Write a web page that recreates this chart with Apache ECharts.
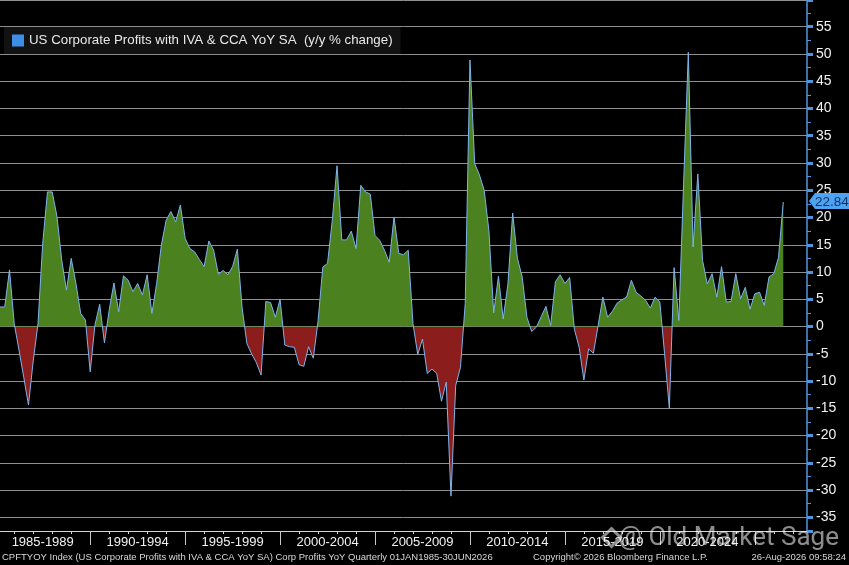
<!DOCTYPE html>
<html>
<head>
<meta charset="utf-8">
<script src="https://cdn.jsdelivr.net/npm/echarts@6/dist/echarts.min.js"></script>
<style>
html, body { margin: 0; padding: 0; background: #000; }
#main { width: 849px; height: 565px; }
</style>
</head>
<body>
<div id="main"></div>
<script>
var seriesName = 'US Corporate Profits with IVA & CCA YoY SA  (y/y % change)';
var startYear = 1985;
var axisQuarters = 171; // axis runs a few quarters past the last print

// CPFTYOY, quarterly, 1985Q1 .. 2026Q2
var profitsYoY = [
  3.6, 3.6, 10.4, 0.5, -4.3, -9.3, -14.4, -6.3, 0.5, 15.3,
  24.7, 24.7, 20.2, 12.2, 6.7, 12.5, 7.9, 2.4, 1.2, -8.3,
  0.3, 4.1, -3.0, 3.0, 8.0, 2.7, 9.3, 8.5, 6.4, 7.9,
  5.8, 9.5, 2.4, 7.9, 15.0, 19.5, 21.1, 19.2, 22.3, 16.2,
  14.3, 13.7, 12.3, 11.0, 15.7, 14.0, 9.6, 10.3, 9.5, 11.0,
  14.2, 3.5, -3.1, -5.0, -6.6, -8.9, 4.6, 4.4, 1.7, 5.0,
  -3.4, -3.7, -3.8, -7.0, -7.3, -3.7, -5.8, 1.0, 10.9, 11.6,
  19.5, 29.5, 15.9, 15.9, 17.5, 14.3, 25.9, 24.7, 24.3, 16.7,
  15.8, 14.0, 11.8, 20.1, 13.4, 13.2, 14.0, 0.5, -5.1, -2.3,
  -8.6, -7.8, -8.6, -13.7, -10.2, -31.1, -10.8, -7.5, 4.2, 48.9,
  29.9, 27.8, 25.0, 17.5, 2.5, 9.2, 1.4, 7.8, 20.8, 12.5,
  9.1, 1.7, -0.9, -0.1, 1.8, 3.7, 0.2, 8.2, 9.5, 7.9,
  9.0, -0.5, -3.8, -9.8, -4.1, -4.9, 0.2, 5.4, 1.7, 2.8,
  4.3, 4.9, 5.4, 8.5, 6.3, 5.6, 4.8, 3.4, 5.4, 4.5,
  -5.0, -15.0, 10.8, 1.1, 26.0, 50.3, 14.6, 28.0, 12.1, 7.8,
  9.7, 5.4, 11.0, 4.5, 4.6, 9.7, 5.1, 7.2, 3.2, 6.0,
  6.3, 3.9, 9.1, 9.7, 12.7, 22.84
];

var bandLabels = ['1985-1989', '1990-1994', '1995-1999', '2000-2004', '2005-2009', '2010-2014', '2015-2019', '2020-2024'];

var footerLeft = 'CPFTYOY Index (US Corporate Profits with IVA & CCA YoY SA) Corp Profits YoY Quarterly 01JAN1985-30JUN2026';
var footerMid = 'Copyright\u00a9 2026 Bloomberg Finance L.P.';
var footerRight = '26-Aug-2026 09:58:24';
var watermark = '@ Old Market Sage';

var quarters = [];
for (var i = 0; i < axisQuarters; i++) {
  quarters.push((startYear + Math.floor(i / 4)) + 'Q' + (i % 4 + 1));
}

var blue = '#4f96e0';
var green = '#4c8120';
var red = '#8c1d1d';
var font = '"Liberation Sans", Arial, sans-serif';

function textBits() {
  var f = '9.5px ' + font;
  return [
    { type: 'text', left: 2, top: 552, style: { text: footerLeft, fill: '#d8d8d8', font: f } },
    { type: 'text', left: 533, top: 552, style: { text: footerMid, fill: '#d8d8d8', font: f } },
    { type: 'text', right: 3, top: 552, style: { text: footerRight, fill: '#d8d8d8', font: f } },
    // watermark + little logo
    {
      type: 'polygon', z: 100, left: 600, top: 526,
      shape: { points: [[9, 0], [18, 9], [9, 18], [0, 9]] },
      style: { fill: 'none', stroke: 'rgba(255,255,255,0.55)', lineWidth: 3 }
    },
    { type: 'text', right: 10, top: 525, z: 100, style: { text: watermark, fill: 'rgba(255,255,255,0.55)', font: '26px Roboto, sans-serif' } }
  ];
}

var chart = echarts.init(document.getElementById('main'));
var option = {
  backgroundColor: '#000',
  animation: false,
  textStyle: { fontFamily: font },
  grid: { left: 0, right: 42, top: 0, bottom: 34, containLabel: false },
  legend: {
    left: 4, top: 27,
    padding: [7, 8, 7, 8],
    itemWidth: 12, itemHeight: 12, itemGap: 6,
    icon: 'rect',
    backgroundColor: '#121212',
    itemStyle: { color: '#3d8ee6' },
    textStyle: { color: '#e8e8e8', fontSize: 13.3, fontFamily: font },
    data: [seriesName]
  },
  xAxis: [{
    type: 'category',
    data: quarters,
    boundaryGap: false,
    axisLine: { show: true, onZero: false, lineStyle: { color: '#d4d4d4', width: 1 } },
    axisTick: {
      show: true, length: 3,
      interval: function (idx) { return idx % 4 === 3; },
      lineStyle: { color: '#d4d4d4' }
    },
    axisLabel: {
      color: '#f2f2f2', fontSize: 13, margin: 5,
      interval: function (idx) { return idx % 20 === 9; },
      formatter: function (val, idx) { return bandLabels[Math.floor(idx / 20)] || ''; }
    },
    splitLine: { show: false }
  }, {
    // 5 year separators
    type: 'category',
    data: quarters,
    boundaryGap: false,
    position: 'bottom',
    axisLine: { show: false, onZero: false },
    axisTick: {
      show: true, length: 14,
      interval: function (idx) { return idx % 20 === 19; },
      lineStyle: { color: '#c8c8c8' }
    },
    axisLabel: { show: false },
    splitLine: { show: false }
  }],
  yAxis: {
    type: 'value',
    position: 'right',
    min: -37.5, max: 59.9,
    minInterval: 5, maxInterval: 5,
    axisLine: { show: true, lineStyle: { color: blue, width: 1.5 } },
    axisTick: { show: true, length: 6, lineStyle: { color: blue, width: 3 } },
    minorTick: { show: true, splitNumber: 2, length: 4, lineStyle: { color: blue, width: 1 } },
    axisLabel: {
      color: '#f2f2f2', fontSize: 14, margin: 9,
      formatter: function (v) { return (v % 5 === 0 && v <= 55 && v >= -35) ? String(v) : ''; }
    },
    splitLine: { show: true, lineStyle: { color: '#8e8e8e', width: 1 } }
  },
  series: [{
    name: seriesName,
    type: 'line',
    data: profitsYoY,
    symbol: 'none',
    showSymbol: false,
    lineStyle: { color: '#7db4ec', width: 1 },
    itemStyle: { color: '#3d8ee6' },
    areaStyle: { opacity: 1, origin: 'auto', color: green }
  }],
  graphic: textBits()
};
chart.setOption(option);

// green above zero, red below: split the area fill at the zero line
var zeroY = chart.convertToPixel({ yAxisIndex: 0 }, 0);
var h = chart.getHeight();
var cut = zeroY / h;

// last value tag on the right axis
var lastVal = profitsYoY[profitsYoY.length - 1];
var tagY = chart.convertToPixel({ yAxisIndex: 0 }, lastVal) - 1;
var axisX = chart.convertToPixel({ xAxisIndex: 0 }, axisQuarters - 1);

var bits = textBits();
bits.push({
  type: 'polygon', z: 100,
  shape: { points: [[axisX + 2, tagY], [axisX + 8, tagY - 8], [849, tagY - 8], [849, tagY + 8], [axisX + 8, tagY + 8]] },
  style: { fill: '#4ea2f2' }
});
bits.push({
  type: 'text', z: 101, x: axisX + 8, y: tagY + 1,
  style: { text: lastVal.toFixed(2), fill: '#12315e', font: '13.5px ' + font, verticalAlign: 'middle' }
});

chart.setOption({
  series: [{
    areaStyle: {
      color: new echarts.graphic.LinearGradient(0, 0, 0, h, [
        { offset: 0, color: green },
        { offset: cut, color: green },
        { offset: cut, color: red },
        { offset: 1, color: red }
      ], true)
    }
  }],
  graphic: bits
}, { replaceMerge: ['graphic'] });
</script>
</body>
</html>
